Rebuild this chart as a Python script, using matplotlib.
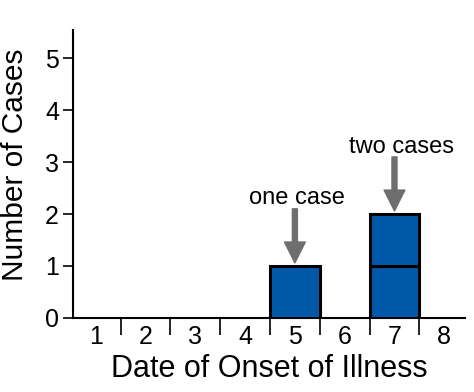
import matplotlib
matplotlib.use("Agg")
import matplotlib.pyplot as plt
import numpy as np

plt.rcParams["font.family"] = ["Liberation Sans", "DejaVu Sans"]

# data
days = [1, 2, 3, 4, 5, 6, 7, 8]
cases = [0, 0, 0, 0, 1, 0, 2, 0]
notes = {5: "one case", 7: "two cases"}
y_ticks = [0, 1, 2, 3, 4, 5]

BLUE = "#0059A8"
GREY = "#6E6E6E"

fig = plt.figure(figsize=(4.74, 3.92), dpi=100)
ax = fig.add_axes([0.154, 0.189, 0.827, 0.734])

# each case is its own box, stacked
for d, n in zip(days, cases):
    for k in range(n):
        ax.bar(d, 1, bottom=k, width=1.0, color=BLUE, edgecolor="black",
               linewidth=2.2, zorder=3)

# arrows + labels
for d, text in notes.items():
    n = cases[days.index(d)]
    ax.annotate("", xy=(d, n + 0.06), xytext=(d, n + 1.1),
                arrowprops=dict(arrowstyle="simple,head_length=0.75,head_width=0.75,tail_width=0.18",
                                color=GREY, shrinkA=0, shrinkB=0, mutation_scale=20))
    ax.text(d + (0.04 if n == 1 else 0.14), n + 1.3, text, ha="center", va="center", fontsize=17)

ax.set_xlim(0.544, 8.416)
ax.set_ylim(0, 5.54)

ax.set_yticks(y_ticks)
ax.tick_params(axis="y", direction="out", length=7, width=1.2, labelsize=18, pad=3)

# dividers between days as major ticks, labels centred as minor ticks
ax.set_xticks(np.array(days[:-1]) + 0.5)
ax.set_xticklabels([])
ax.set_xticks(days, minor=True)
ax.set_xticklabels([str(d) for d in days], minor=True)
ax.tick_params(axis="x", which="major", direction="out", length=12, width=1.2)
ax.tick_params(axis="x", which="minor", length=0, labelsize=18, pad=5)

for s in ["top", "right"]:
    ax.spines[s].set_visible(False)
for s in ["left", "bottom"]:
    ax.spines[s].set_linewidth(1.5)

ax.set_xlabel("Date of Onset of Illness", fontsize=22, labelpad=4)
ax.set_ylabel("Number of Cases", fontsize=21.5)
ax.yaxis.set_label_coords(-0.112, 0.531)

fig.savefig("out.png", dpi=100)
